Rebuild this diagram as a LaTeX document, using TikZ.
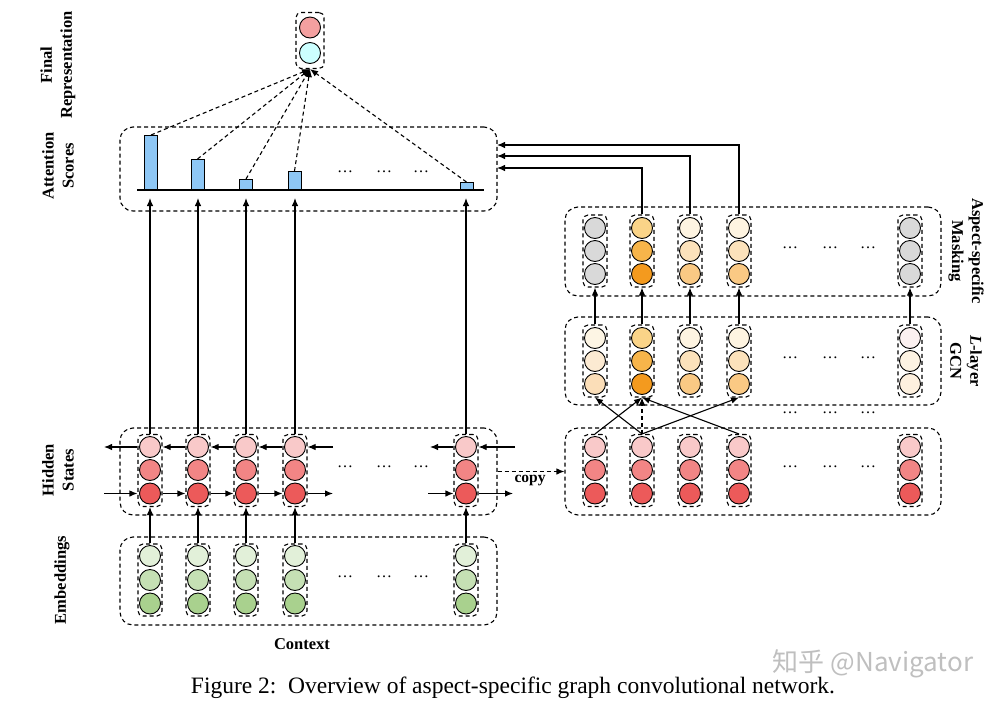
\documentclass[tikz,border=0pt]{standalone}
\usepackage{fontspec}
\setmainfont{Liberation Serif}
\newfontfamily\cjkfont{Noto Sans CJK SC}
\usetikzlibrary{arrows.meta}
\definecolor{emA}{HTML}{E2F0D9}
\definecolor{emB}{HTML}{C5E0B4}
\definecolor{emC}{HTML}{A9D18E}
\definecolor{hsA}{HTML}{F9C9C9}
\definecolor{hsB}{HTML}{F28585}
\definecolor{hsC}{HTML}{EC5A5A}
\definecolor{frA}{HTML}{F4A0A0}
\definecolor{frB}{HTML}{CCFFFF}
\definecolor{barc}{HTML}{8EC7F5}
\definecolor{grc}{HTML}{D9D9D9}
\definecolor{orA}{HTML}{FAD488}
\definecolor{orB}{HTML}{F7B54A}
\definecolor{orC}{HTML}{F49A1E}
\definecolor{peA}{HTML}{FEF4E1}
\definecolor{peB}{HTML}{FCE2BB}
\definecolor{peC}{HTML}{FAC984}
\definecolor{lpA}{HTML}{FDF5E4}
\definecolor{lpB}{HTML}{FCEAD2}
\definecolor{lpC}{HTML}{FBDEB8}
\definecolor{pkA}{HTML}{FBF0F0}
\definecolor{pkB}{HTML}{FDF3E3}
\definecolor{pkC}{HTML}{FDF0DF}
\tikzset{
  dsh/.style={dash pattern=on 4pt off 3pt},
  outerbox/.style={draw, dsh, rounded corners=13pt, line width=1.1pt, minimum width=377pt, inner sep=0pt},
  colbox/.style={draw, dsh, rounded corners=5pt, line width=1.1pt, minimum width=24pt, minimum height=72pt, inner sep=0pt},
  cell/.style={circle, draw, line width=0.9pt, minimum size=21pt, inner sep=0pt},
  arr/.style={-{Latex[length=8pt,width=6.5pt]}, line width=1.1pt},
  darr/.style={arr, dsh},
  bar/.style={draw, fill=barc, line width=1pt, minimum width=13pt, inner sep=0pt, anchor=south},
  lab/.style={font=\fontsize{16.5}{20}\selectfont\bfseries, align=center, inner sep=0pt},
  dts/.style={font=\fontsize{16}{18}\selectfont, inner sep=0pt},
}
\begin{document}
\begin{tikzpicture}[x=1pt,y=-1pt]
\useasboundingbox (0,0) rectangle (1002,710);

% ---------- left labels ----------
\node[lab, rotate=90] (lfin) at (58,65) {Final\\Representation};
\node[lab, rotate=90] (latt) at (58,166) {Attention\\Scores};
\node[lab, rotate=90] (lhid) at (58,470) {Hidden\\States};
\node[lab, rotate=90] (lemb) at (62,580) {Embeddings};
\node[lab, rotate=-90] (lmask) at (966,251) {Aspect-specific\\Masking};
\node[lab, rotate=-90] (lgcn) at (966,361) {\textit{L}-layer\\GCN};

% ---------- outer boxes ----------
\node[outerbox, minimum height=84pt] (attbox) at (308.5,169) {};
\node[outerbox, minimum height=87pt] (hout) at (308.5,471.5) {};
\node[outerbox, minimum height=88pt] (eout) at (308.5,581) {};
\node[outerbox, minimum width=376pt, minimum height=89pt] (mout) at (753,251.5) {};
\node[outerbox, minimum width=376pt, minimum height=88pt] (gout) at (753,361) {};
\node[outerbox, minimum width=376pt, minimum height=87pt] (lout) at (753,471.5) {};

% ---------- left columns ----------
\foreach \i/\x in {1/150,2/198,3/246,4/295,5/466}{
  \node[colbox] (eb\i) at (\x,580) {};
  \node[cell, fill=emA] (et\i) at (\x,556) {};
  \node[cell, fill=emB] (em\i) at (\x,580) {};
  \node[cell, fill=emC] (ed\i) at (\x,603.5) {};
  \node[colbox] (hb\i) at (\x,470.5) {};
  \node[cell, fill=hsA] (ht\i) at (\x,447) {};
  \node[cell, fill=hsB] (hm\i) at (\x,470) {};
  \node[cell, fill=hsC] (hd\i) at (\x,493.5) {};
  \draw[arr] (eb\i.north) -- (hb\i.south);
}
\foreach \k/\x in {1/345,2/384,3/421}{
  \node[dts] (ed-\k) at (\x,577) {\dots};
  \node[dts] (hd-\k) at (\x,467) {\dots};
  \node[dts] (ad-\k) at (\x,172) {\dots};
}

% hidden horizontal arrows (backward: top row, forward: bottom row)
\coordinate (tl0) at (104,447);
\coordinate (tr4) at (333,447);
\coordinate (tl5) at (430,447);
\coordinate (tr5) at (515,447);
\coordinate (bl0) at (104,493.5);
\coordinate (br4) at (333,493.5);
\coordinate (bl5) at (428,493.5);
\coordinate (br5) at (513,493.5);
\draw[arr] (hb1.west |- ht1) -- (tl0);
\draw[arr] (bl0) -- (hb1.west |- hd1);
\foreach \i/\j in {1/2,2/3,3/4}{
  \draw[arr] (hb\j.west |- ht\j) -- (hb\i.east |- ht\i);
  \draw[arr] (hb\i.east |- hd\i) -- (hb\j.west |- hd\j);
}
\draw[arr] (tr4) -- (hb4.east |- ht4);
\draw[arr] (hb4.east |- hd4) -- (br4);
\draw[arr] (hb5.west |- ht5) -- (tl5);
\draw[arr] (bl5) -- (hb5.west |- hd5);
\draw[arr] (tr5) -- (hb5.east |- ht5);
\draw[arr] (hb5.east |- hd5) -- (br5);

% ---------- attention scores ----------
\coordinate (base0) at (137,190);
\coordinate (base1) at (484,190);
\draw[line width=1.2pt] (base0) -- (base1);
\node[bar, minimum height=54pt] (bar1) at (151,190) {};
\node[bar, minimum height=30pt] (bar2) at (197.5,190) {};
\node[bar, minimum height=10pt] (bar3) at (246,190) {};
\node[bar, minimum height=18pt] (bar4) at (294.5,190) {};
\node[bar, minimum height=7pt]  (bar5) at (466.5,190) {};
\foreach \i/\x in {1/150,2/198,3/246,4/295,5/466}{
  \coordinate (ain\i) at (\x,198);
  \draw[arr] (hb\i.north) -- (ain\i);
}

% ---------- final representation ----------
\node[colbox, minimum width=28pt, minimum height=56pt] (frb) at (310,40.5) {};
\node[cell, fill=frA] (fr1) at (310,27.5) {};
\node[cell, fill=frB] (fr2) at (310,53) {};
\foreach \i in {1,...,5}{
  \draw[darr] (bar\i.north) -- (frb.south);
}

% ---------- right columns ----------
% masking
\foreach \i/\x/\ca/\cb/\cc in {1/595/grc/grc/grc,2/642/orA/orB/orC,3/690/peA/peB/peC,4/739/peA/peB/peC,5/910/grc/grc/grc}{
  \node[colbox] (mb\i) at (\x,251) {};
  \node[cell, fill=\ca] (mt\i) at (\x,228) {};
  \node[cell, fill=\cb] (mm\i) at (\x,251) {};
  \node[cell, fill=\cc] (md\i) at (\x,274) {};
}
% gcn
\foreach \i/\x/\ca/\cb/\cc in {1/595/lpA/lpB/lpC,2/642/orA/orB/orC,3/690/peA/peB/peC,4/739/peA/peB/peC,5/910/pkA/pkB/pkC}{
  \node[colbox] (gb\i) at (\x,361) {};
  \node[cell, fill=\ca] (gt\i) at (\x,338) {};
  \node[cell, fill=\cb] (gm\i) at (\x,361) {};
  \node[cell, fill=\cc] (gd\i) at (\x,384) {};
  \draw[arr] (gb\i.north) -- (mb\i.south);
}
% lower (copied hidden states)
\foreach \i/\x in {1/595,2/642,3/690,4/739,5/910}{
  \node[colbox] (lb\i) at (\x,470.5) {};
  \node[cell, fill=hsA] (lt\i) at (\x,447) {};
  \node[cell, fill=hsB] (lm\i) at (\x,470) {};
  \node[cell, fill=hsC] (ld\i) at (\x,493.5) {};
}
\foreach \k/\x in {1/790,2/830,3/868}{
  \node[dts] (md-\k) at (\x,248) {\dots};
  \node[dts] (gd-\k) at (\x,358) {\dots};
  \node[dts] (bd-\k) at (\x,413) {\dots};
  \node[dts] (ld-\k) at (\x,467) {\dots};
}

% graph convolution connections
\draw[arr] (lb1.north) -- (gb2.south);
\draw[arr] (lb2.north) -- (gb1.south);
\draw[arr] (lb2.north) -- (gb4.south);
\draw[darr] (lb2.north) -- (gb2.south);
\draw[arr] (lb4.north) -- (gb2.south);

% masking -> attention
\coordinate (ar2) at (497,168);
\coordinate (ar3) at (497,156);
\coordinate (ar4) at (497,145);
\draw[arr] (mb2.north) |- (ar2);
\draw[arr] (mb3.north) |- (ar3);
\draw[arr] (mb4.north) |- (ar4);

% copy
\draw[darr] (hout.east) -- (lout.west);
\node[font=\fontsize{15.5}{17}\selectfont\bfseries] (copy) at (530,481) {copy};

% ---------- bottom texts ----------
\node[font=\fontsize{16.5}{18}\selectfont\bfseries] (ctx) at (302,644) {Context};
\node[font=\fontsize{23.5}{26}\selectfont] (cap) at (513,688) {Figure 2:\ \ Overview of aspect-specific graph convolutional network.};
\node[font=\cjkfont\fontsize{26}{28}\selectfont, text=black!25] (wm) at (873,664) {知乎 @Navigator};
\end{tikzpicture}
\end{document}
